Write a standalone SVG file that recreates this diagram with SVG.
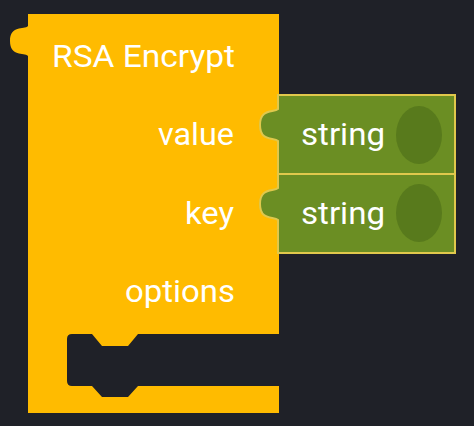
<svg xmlns="http://www.w3.org/2000/svg" width="474" height="426" viewBox="0 0 474 426">
<style>
.lbl{font-family:Roboto,"Liberation Sans",sans-serif;font-size:31px;fill:#ffffff}
.r{text-anchor:end}
.green{fill:#6b8e23;stroke:#e0c84c;stroke-width:2}
.dot{fill:#587a1c}
</style>
<rect width="474" height="426" fill="#1f2128"/>
<g id="rsa_encrypt">
<path fill="#ffbb00" d="M28,14 H279 V334 H138 L128,346 H102 L92,334 H72 Q67,334 67,339 V381 Q67,386 72,386 H92 L102,397 H128 L138,386 H279 V413 H28 V56 C24,52 10,57 10,41 C10,25 24,30 28,26 Z"/>
<text class="lbl" x="52" y="67" textLength="183" lengthAdjust="spacingAndGlyphs">RSA Encrypt</text>
<text class="lbl r" x="234" y="145" textLength="76" lengthAdjust="spacingAndGlyphs">value</text>
<text class="lbl r" x="234" y="224" textLength="49" lengthAdjust="spacingAndGlyphs">key</text>
<text class="lbl r" x="235" y="302" textLength="110" lengthAdjust="spacingAndGlyphs">options</text>
</g>
<g id="string_value">
<path class="green" d="M278,95 H455 V174 H278 V141 C274,137 260,142 260,125 C260,108 274,113 278,109 Z"/>
<ellipse class="dot" cx="419" cy="135" rx="23" ry="29"/>
<text class="lbl" x="301" y="145" textLength="84" lengthAdjust="spacingAndGlyphs">string</text>
</g>
<g id="string_key">
<path class="green" d="M278,174 H455 V253 H278 V220 C274,216 260,221 260,204 C260,187 274,192 278,188 Z"/>
<ellipse class="dot" cx="419" cy="213" rx="23" ry="29"/>
<text class="lbl" x="301" y="224" textLength="84" lengthAdjust="spacingAndGlyphs">string</text>
</g>
<g id="connectors"/>
</svg>
